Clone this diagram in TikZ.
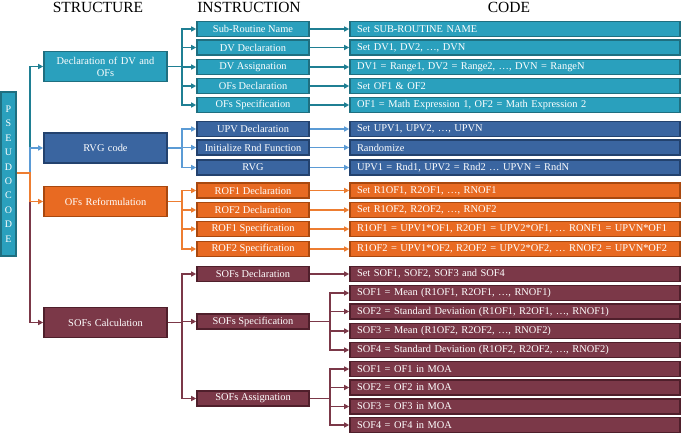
\documentclass[tikz,border=0pt]{standalone}
\usepackage{fontspec}
\setmainfont{Liberation Serif}
\usetikzlibrary{arrows.meta}
\definecolor{tealF}{HTML}{2AA0BD}
\definecolor{tealD}{HTML}{1F6F80}
\definecolor{tealL}{HTML}{1F7F93}
\definecolor{blueF}{HTML}{3A65A0}
\definecolor{blueD}{HTML}{23426E}
\definecolor{blueL}{HTML}{5B9BD5}
\definecolor{oraF}{HTML}{E86A22}
\definecolor{oraD}{HTML}{A8480F}
\definecolor{oraL}{HTML}{ED7D31}
\definecolor{marF}{HTML}{7B3848}
\definecolor{marD}{HTML}{4F1F2B}
\definecolor{marL}{HTML}{7B3848}
\begin{document}
\begin{tikzpicture}[x=1pt,y=-1pt,
  every node/.style={font=\fontsize{10.4}{12}\selectfont, inner sep=0pt},
  bx/.style={draw, line width=1.6pt, minimum height=15pt, text=white},
  sbox/.style={bx, minimum width=123pt, minimum height=30pt, text width=115pt, align=center},
  ibox/.style={bx, minimum width=112pt},
  cbox/.style={bx, minimum width=330pt, text width=316pt, align=left},
  tealc/.style={fill=tealF, draw=tealD},
  bluec/.style={fill=blueF, draw=blueD},
  orac/.style={fill=oraF, draw=oraD},
  marc/.style={fill=marF, draw=marD},
  con/.style={line width=1.8pt, -{Triangle[length=5pt,width=5pt]}},
  tcon/.style={con, draw=tealL},
  bcon/.style={con, draw=blueL},
  ocon/.style={con, draw=oraL},
  mcon/.style={con, draw=marL},
  head/.style={font=\fontsize{15.5}{18}\selectfont, text=black}
]
\useasboundingbox (0,0) rectangle (685,434);

% headers
\node[head] (h1) at (98,7) {STRUCTURE};
\node[head] (h2) at (249,7) {INSTRUCTION};
\node[head] (h3) at (509,7) {CODE};

% root
\node[bx, tealc, minimum width=14.5pt, minimum height=164pt, align=center, font=\fontsize{10}{14.4}\selectfont] (root) at (8.5,174)
  {P\\S\\E\\U\\D\\O\\C\\O\\D\\E};

% structure
\node[sbox, tealc] (s1) at (105.5,66.5) {Declaration of DV and\\OFs};
\node[sbox, bluec] (s2) at (105.5,148) {RVG code};
\node[sbox, orac] (s3) at (105.5,201.5) {OFs Reformulation};
\node[sbox, marc] (s4) at (105.5,322.5) {SOFs Calculation};

% instructions
\node[ibox, tealc] (i1) at (253,29) {Sub-Routine Name};
\node[ibox, tealc] (i2) at (253,47.5) {DV Declaration};
\node[ibox, tealc] (i3) at (253,67) {DV Assignation};
\node[ibox, tealc] (i4) at (253,86) {OFs Declaration};
\node[ibox, tealc] (i5) at (253,105) {OFs Specification};
\node[ibox, bluec] (i6) at (253,129) {UPV Declaration};
\node[ibox, bluec] (i7) at (253,147.5) {Initialize Rnd Function};
\node[ibox, bluec] (i8) at (253,167.5) {RVG};
\node[ibox, orac] (i9) at (253,190.5) {ROF1 Declaration};
\node[ibox, orac] (i10) at (253,210) {ROF2 Declaration};
\node[ibox, orac] (i11) at (253,229) {ROF1 Specification};
\node[ibox, orac] (i12) at (253,249) {ROF2 Specification};
\node[ibox, marc] (i13) at (253,274) {SOFs Declaration};
\node[ibox, marc] (i14) at (253,321.5) {SOFs Specification};
\node[ibox, marc] (i15) at (253,398.5) {SOFs Assignation};

% code
\node[cbox, tealc] (c1) at (515,29) {Set SUB-ROUTINE NAME};
\node[cbox, tealc] (c2) at (515,47.5) {Set DV1, DV2, \dots, DVN};
\node[cbox, tealc] (c3) at (515,67) {DV1 = Range1, DV2 = Range2, \dots, DVN = RangeN};
\node[cbox, tealc] (c4) at (515,86) {Set OF1 \& OF2};
\node[cbox, tealc] (c5) at (515,105) {OF1 = Math Expression 1, OF2 = Math Expression 2};
\node[cbox, bluec] (c6) at (515,129) {Set UPV1, UPV2, \dots, UPVN};
\node[cbox, bluec] (c7) at (515,147.5) {Randomize};
\node[cbox, bluec] (c8) at (515,167.5) {UPV1 = Rnd1, UPV2 = Rnd2 \dots\ UPVN = RndN};
\node[cbox, orac] (c9) at (515,190.5) {Set R1OF1, R2OF1, \dots, RNOF1};
\node[cbox, orac] (c10) at (515,210) {Set R1OF2, R2OF2, \dots, RNOF2};
\node[cbox, orac] (c11) at (515,229) {R1OF1 = UPV1*OF1, R2OF1 = UPV2*OF1, \dots\ RONF1 = UPVN*OF1};
\node[cbox, orac] (c12) at (515,249) {R1OF2 = UPV1*OF2, R2OF2 = UPV2*OF2, \dots\ RNOF2 = UPVN*OF2};
\node[cbox, marc] (c13) at (515,274) {Set SOF1, SOF2, SOF3 and SOF4};
\node[cbox, marc] (c14) at (515,293) {SOF1 = Mean (R1OF1, R2OF1, \dots, RNOF1)};
\node[cbox, marc] (c15) at (515,311.5) {SOF2 = Standard Deviation (R1OF1, R2OF1, \dots, RNOF1)};
\node[cbox, marc] (c16) at (515,331) {SOF3 = Mean (R1OF2, R2OF2, \dots, RNOF2)};
\node[cbox, marc] (c17) at (515,350) {SOF4 = Standard Deviation (R1OF2, R2OF2, \dots, RNOF2)};
\node[cbox, marc] (c18) at (515,369) {SOF1 = OF1 in MOA};
\node[cbox, marc] (c19) at (515,387.5) {SOF2 = OF2 in MOA};
\node[cbox, marc] (c20) at (515,406.5) {SOF3 = OF3 in MOA};
\node[cbox, marc] (c21) at (515,425) {SOF4 = OF4 in MOA};

% bus coordinates
\coordinate (rb) at (30,0);
\coordinate (sb) at (182,0);
\coordinate (cb) at (330,0);

% root -> structure
\draw[tcon] (root.east |- 0,173) -- (rb |- 0,173) |- (s1.west);
\draw[bcon] (root.east |- 0,173) -- (rb |- 0,173) |- (s2.west);
\draw[mcon] (root.east |- 0,173) -- (rb |- 0,173) |- (s4.west);
\draw[ocon] (root.east |- 0,173) -- (rb |- 0,173) |- (s3.west);

% structure -> instruction
\foreach \c in {i1,i2,i3,i4,i5}{\draw[tcon] (s1.east) -- (sb |- s1.east) |- (\c.west);}
\foreach \c in {i6,i7,i8}{\draw[bcon] (s2.east) -- (sb |- s2.east) |- (\c.west);}
\foreach \c in {i9,i10,i11,i12}{\draw[ocon] (s3.east) -- (sb |- s3.east) |- (\c.west);}
\foreach \c in {i13,i14,i15}{\draw[mcon] (s4.east) -- (sb |- s4.east) |- (\c.west);}

% instruction -> code
\foreach \a/\b in {i1/c1,i2/c2,i3/c3,i4/c4,i5/c5}{\draw[tcon] (\a.east) -- (\b.west);}
\foreach \a/\b in {i6/c6,i7/c7,i8/c8}{\draw[bcon] (\a.east) -- (\b.west);}
\foreach \a/\b in {i9/c9,i10/c10,i11/c11,i12/c12}{\draw[ocon] (\a.east) -- (\b.west);}
\draw[mcon] (i13.east) -- (c13.west);
\foreach \c in {c14,c15,c16,c17}{\draw[mcon] (i14.east) -- (cb |- i14.east) |- (\c.west);}
\foreach \c in {c18,c19,c20,c21}{\draw[mcon] (i15.east) -- (cb |- i15.east) |- (\c.west);}
\end{tikzpicture}
\end{document}
